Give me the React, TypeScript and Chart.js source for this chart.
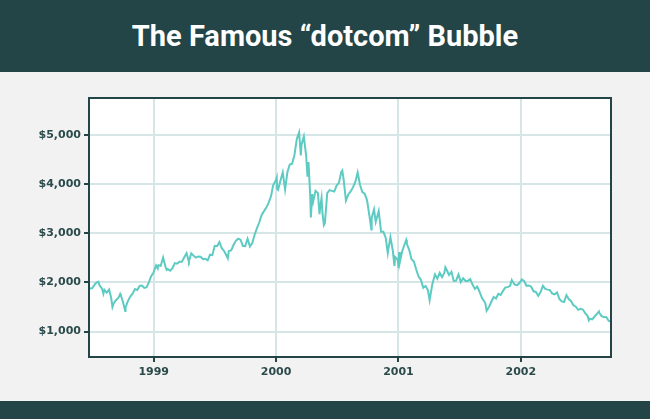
import React, { useEffect, useRef } from "react";
import { Chart, registerables } from "chart.js";

Chart.register(...registerables);

const TITLE = "The Famous \u201cdotcom\u201d Bubble";

const dates: string[] = [
  "1998-06-22","1998-06-26","1998-07-02","1998-07-10","1998-07-17","1998-07-20","1998-07-24","1998-07-31",
  "1998-08-04","1998-08-07","1998-08-14","1998-08-21","1998-08-27","1998-08-31","1998-09-04","1998-09-11",
  "1998-09-18","1998-09-23","1998-09-25","1998-10-01","1998-10-08","1998-10-09","1998-10-16","1998-10-23",
  "1998-10-30","1998-11-06","1998-11-13","1998-11-20","1998-11-27","1998-12-04","1998-12-11","1998-12-18",
  "1998-12-24","1998-12-31",
  "1999-01-08","1999-01-13","1999-01-15","1999-01-22","1999-01-29","1999-02-05","1999-02-09","1999-02-12",
  "1999-02-19","1999-02-26","1999-03-05","1999-03-12","1999-03-19","1999-03-26","1999-04-01","1999-04-09",
  "1999-04-15","1999-04-16","1999-04-23","1999-04-30","1999-05-07","1999-05-14","1999-05-21","1999-05-28",
  "1999-06-04","1999-06-11","1999-06-18","1999-06-25","1999-07-02","1999-07-09","1999-07-16","1999-07-23",
  "1999-07-30","1999-08-06","1999-08-10","1999-08-13","1999-08-20","1999-08-27","1999-09-03","1999-09-10",
  "1999-09-17","1999-09-24","1999-10-01","1999-10-08","1999-10-15","1999-10-22","1999-10-29","1999-11-05",
  "1999-11-12","1999-11-19","1999-11-26","1999-12-03","1999-12-10","1999-12-17","1999-12-23","1999-12-31",
  "2000-01-03","2000-01-04","2000-01-07","2000-01-14","2000-01-21","2000-01-28","2000-02-04","2000-02-11",
  "2000-02-18","2000-02-25","2000-03-03","2000-03-10","2000-03-15","2000-03-17","2000-03-24","2000-03-31",
  "2000-04-04","2000-04-07","2000-04-12","2000-04-14","2000-04-18","2000-04-21","2000-04-28","2000-05-05",
  "2000-05-10","2000-05-12","2000-05-16","2000-05-19","2000-05-23","2000-05-26","2000-06-02","2000-06-09",
  "2000-06-16","2000-06-23","2000-06-30","2000-07-07","2000-07-14","2000-07-17","2000-07-21","2000-07-28",
  "2000-08-04","2000-08-11","2000-08-18","2000-08-25","2000-09-01","2000-09-08","2000-09-15","2000-09-22",
  "2000-09-29","2000-10-06","2000-10-12","2000-10-13","2000-10-20","2000-10-25","2000-10-27","2000-11-03",
  "2000-11-10","2000-11-17","2000-11-24","2000-11-30","2000-12-01","2000-12-08","2000-12-15","2000-12-20",
  "2000-12-22","2000-12-29",
  "2001-01-02","2001-01-03","2001-01-05","2001-01-12","2001-01-19","2001-01-24","2001-01-26","2001-02-02",
  "2001-02-09","2001-02-16","2001-02-23","2001-03-02","2001-03-09","2001-03-16","2001-03-23","2001-03-30",
  "2001-04-04","2001-04-06","2001-04-12","2001-04-20","2001-04-27","2001-05-04","2001-05-11","2001-05-18",
  "2001-05-21","2001-05-25","2001-06-01","2001-06-08","2001-06-15","2001-06-22","2001-06-29","2001-07-06",
  "2001-07-13","2001-07-20","2001-07-27","2001-08-03","2001-08-10","2001-08-17","2001-08-24","2001-08-31",
  "2001-09-07","2001-09-17","2001-09-21","2001-09-28","2001-10-05","2001-10-12","2001-10-19","2001-10-26",
  "2001-11-02","2001-11-09","2001-11-16","2001-11-23","2001-11-30","2001-12-05","2001-12-07","2001-12-14",
  "2001-12-21","2001-12-28",
  "2002-01-04","2002-01-11","2002-01-18","2002-01-25","2002-02-01","2002-02-08","2002-02-15","2002-02-22",
  "2002-03-01","2002-03-08","2002-03-15","2002-03-22","2002-03-28","2002-04-05","2002-04-12","2002-04-19",
  "2002-04-26","2002-05-03","2002-05-10","2002-05-17","2002-05-24","2002-05-31","2002-06-07","2002-06-14",
  "2002-06-21","2002-06-28","2002-07-05","2002-07-12","2002-07-19","2002-07-23","2002-07-26","2002-08-02",
  "2002-08-09","2002-08-16","2002-08-22","2002-08-23","2002-08-30","2002-09-06","2002-09-13","2002-09-20",
  "2002-09-27"
];

const closes: number[] = [
  1870,1877,1885,1968,2008,2014,1932,1872,
  1768,1849,1791,1854,1687,1499,1575,1642,
  1690,1766,1736,1611,1419,1492,1620,1711,
  1771,1866,1847,1928,1935,1887,1900,2010,
  2120,2193,
  2344,2280,2348,2338,2505,2320,2254,2270,
  2237,2288,2392,2381,2421,2419,2493,2593,
  2441,2426,2590,2542,2503,2527,2521,2471,
  2478,2447,2563,2553,2742,2736,2818,2693,
  2638,2547,2490,2637,2648,2758,2844,2888,
  2868,2740,2737,2886,2731,2801,2967,3102,
  3221,3369,3448,3520,3620,3753,3969,4069,
  4131,3901,3882,4064,4235,3887,4244,4395,
  4411,4590,4914,5048,4582,4798,4964,4573,
  4148,4446,3769,3321,3794,3643,3860,3817,
  3385,3529,3717,3390,3164,3205,3813,3874,
  3860,3845,3966,4023,4246,4274,4095,3663,
  3787,3849,3930,4042,4234,3983,3835,3803,
  3673,3361,3074,3316,3483,3229,3278,3451,
  3028,3027,2904,2598,2645,2917,2653,2332,
  2517,2471,
  2291,2617,2407,2626,2770,2859,2781,2661,
  2470,2425,2262,2117,2052,1891,1928,1840,
  1638,1720,1961,2163,2075,2192,2107,2198,
  2305,2252,2150,2215,2028,2034,2161,2004,
  2084,2029,2030,2066,1956,1867,1916,1805,
  1687,1580,1423,1499,1605,1703,1671,1768,
  1745,1828,1898,1903,1930,2046,2021,1953,
  1945,1987,
  2059,2022,1930,1937,1911,1818,1805,1725,
  1802,1929,1868,1852,1845,1770,1756,1796,
  1663,1613,1600,1741,1661,1616,1535,1505,
  1441,1463,1448,1374,1319,1229,1262,1247,
  1306,1361,1409,1380,1315,1295,1291,1221,
  1199
];

const yTicks: number[] = [1000, 2000, 3000, 4000, 5000];
const xTicks: number[] = [1999, 2000, 2001, 2002];
const Y_MIN = 483;
const Y_MAX = 5747;

const DARK = "#234547";
const TEXT = "#2b4a4b";
const GRID = "#d6e5e5";
const LINE = "#5ecbc3";
const BG = "#f1f2f1";

function toYear(d: string): number {
  const [y, m, day] = d.split("-").map(Number);
  const start = Date.UTC(y, 0, 1);
  const end = Date.UTC(y + 1, 0, 1);
  const t = Date.UTC(y, m - 1, day);
  return y + (t - start) / (end - start);
}

const frame = {
  id: "frame",
  beforeDraw(chart: any) {
    const { ctx, chartArea } = chart;
    ctx.save();
    ctx.fillStyle = "#ffffff";
    ctx.fillRect(chartArea.left, chartArea.top, chartArea.right - chartArea.left, chartArea.bottom - chartArea.top);
    ctx.restore();
  },
  afterDatasetsDraw(chart: any) {
    const { ctx, chartArea } = chart;
    ctx.save();
    ctx.strokeStyle = DARK;
    ctx.lineWidth = 2;
    ctx.strokeRect(chartArea.left, chartArea.top, chartArea.right - chartArea.left, chartArea.bottom - chartArea.top);
    ctx.restore();
  },
};

export default function App() {
  const ref = useRef<HTMLCanvasElement | null>(null);

  useEffect(() => {
    if (!ref.current) return;
    const points = dates.map((d, i) => ({ x: toYear(d), y: closes[i] }));
    const chart = new Chart(ref.current, {
      type: "line",
      data: {
        datasets: [
          {
            data: points,
            borderColor: LINE,
            borderWidth: 2,
            pointRadius: 0,
            tension: 0,
            fill: false,
          },
        ],
      },
      options: {
        animation: false,
        responsive: false,
        maintainAspectRatio: false,
        layout: { padding: { top: 26, right: 39, left: 0, bottom: 0 } },
        plugins: { legend: { display: false }, tooltip: { enabled: false } },
        scales: {
          x: {
            type: "linear",
            min: points[0].x,
            max: points[points.length - 1].x,
            afterBuildTicks(axis: any) {
              axis.ticks = xTicks.map((v) => ({ value: v }));
            },
            afterFit(axis: any) {
              axis.height = 44;
            },
            grid: { color: GRID, lineWidth: 2, tickColor: DARK, tickLength: 5, tickWidth: 2 },
            border: { display: false },
            ticks: {
              padding: 4,
              color: TEXT,
              font: { family: "DejaVu Sans", size: 11, weight: "bold" },
              callback: (v: any) => String(v),
              maxRotation: 0,
            },
          },
          y: {
            type: "linear",
            min: Y_MIN,
            max: Y_MAX,
            afterBuildTicks(axis: any) {
              axis.ticks = yTicks.map((v) => ({ value: v }));
            },
            afterFit(axis: any) {
              axis.width = 89;
            },
            grid: { color: GRID, lineWidth: 2, tickColor: DARK, tickLength: 5, tickWidth: 2 },
            border: { display: false },
            ticks: {
              padding: 3,
              color: TEXT,
              font: { family: "DejaVu Sans", size: 11, weight: "bold" },
              callback: (v: any) => "$" + Number(v).toLocaleString("en-US"),
            },
          },
        },
      },
      plugins: [frame],
    } as any);
    return () => chart.destroy();
  }, []);

  return (
    <div style={{ position: "fixed", left: 0, top: 0, width: 650, height: 419, background: BG, overflow: "hidden" }}>
      <div
        style={{
          position: "absolute", left: 0, top: 0, width: 650, height: 72, background: DARK,
          display: "flex", alignItems: "center", justifyContent: "center",
          color: "#ffffff", fontFamily: "Roboto, sans-serif", fontWeight: 700, fontSize: 29,
          lineHeight: "72px",
        }}
      >
        {TITLE}
      </div>
      <div style={{ position: "absolute", left: 0, top: 72, width: 650, height: 329 }}>
        <canvas ref={ref} width={650} height={329} style={{ display: "block", width: 650, height: 329 }} />
      </div>
      <div style={{ position: "absolute", left: 0, top: 401, width: 650, height: 18, background: DARK }} />
    </div>
  );
}
